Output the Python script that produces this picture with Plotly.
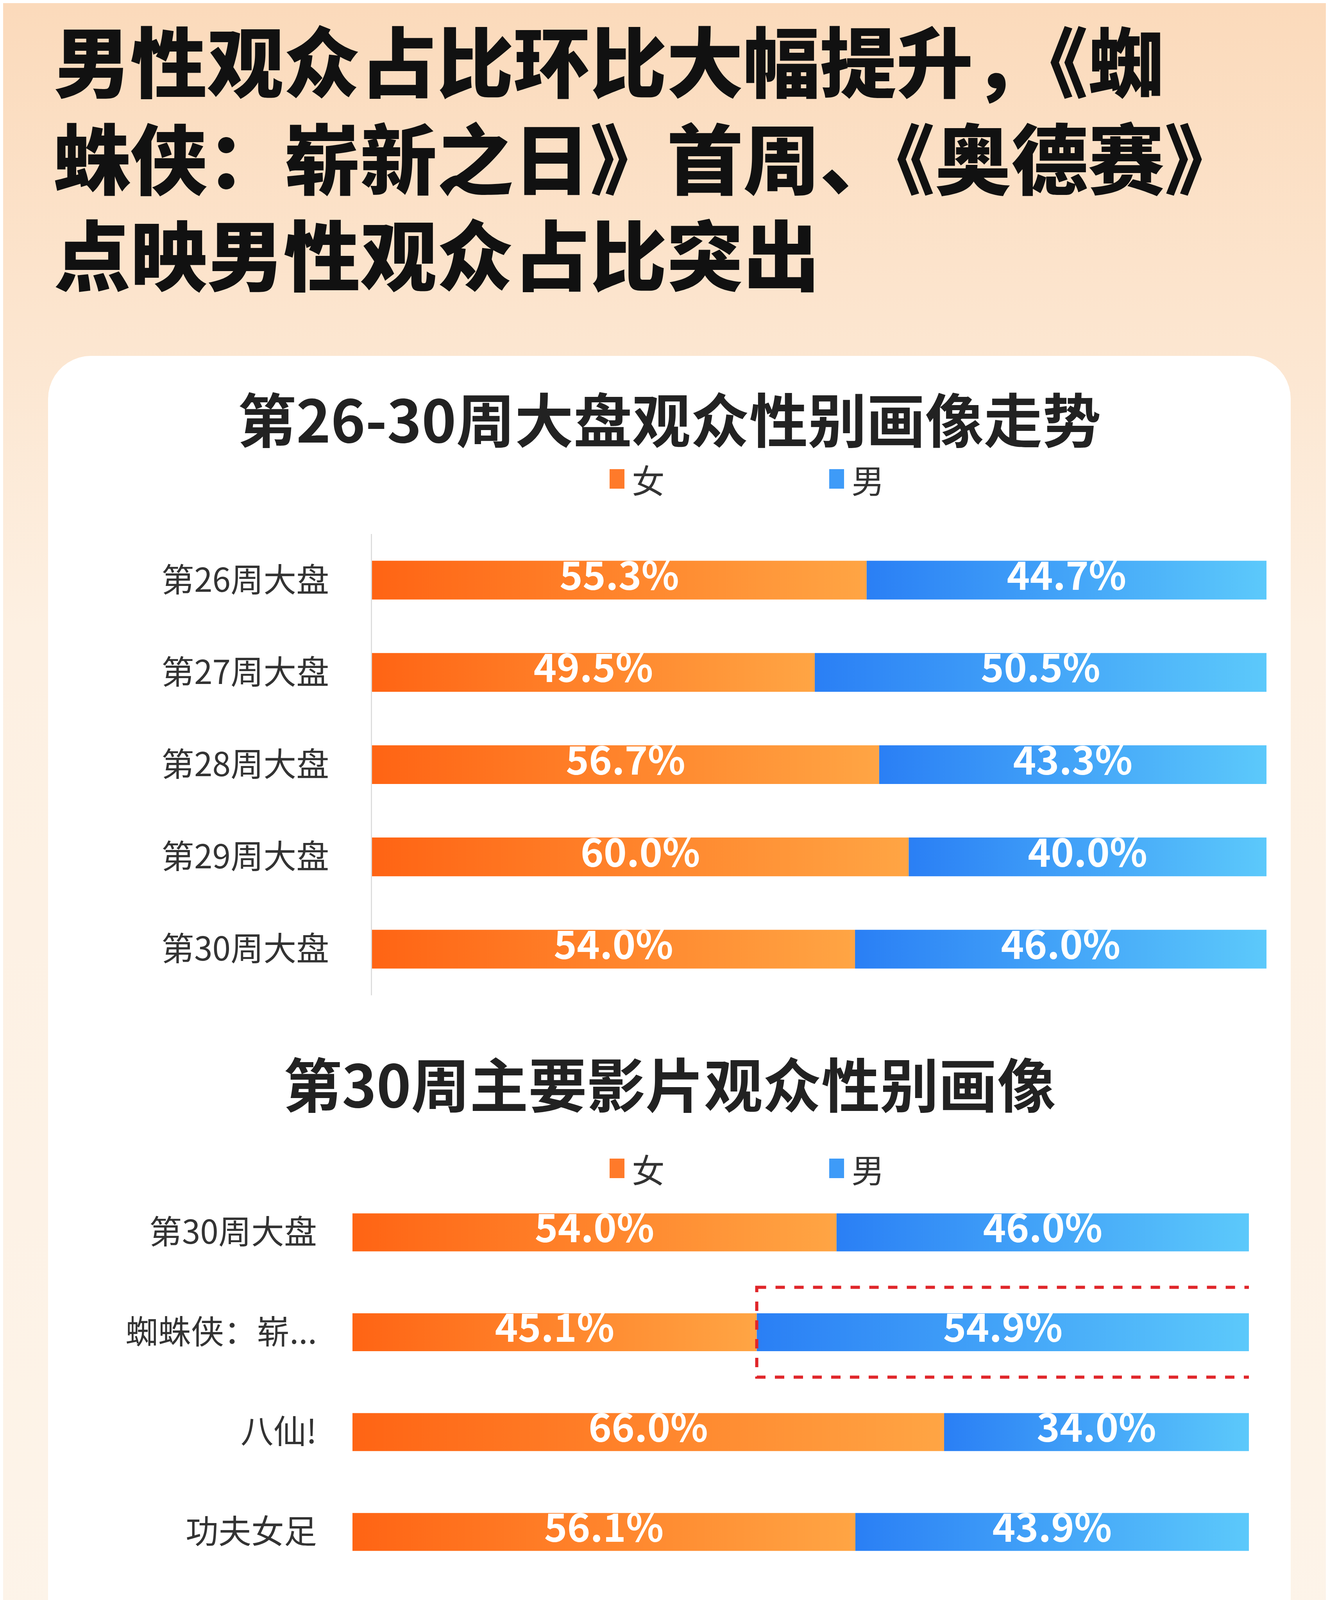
import numpy as np
import plotly.graph_objects as go

W, H = 3401, 6429
FONT = "Noto Sans CJK SC"

# ---- data ----
weeks = ["第26周大盘", "第27周大盘", "第28周大盘", "第29周大盘", "第30周大盘"]
weeks_female = [55.3, 49.5, 56.7, 60.0, 54.0]
weeks_male = [44.7, 50.5, 43.3, 40.0, 46.0]

films = ["第30周大盘", "蜘蛛侠：崭...", "八仙!", "功夫女足", "年会不能停！...", "痴迷",
         "想你了", "四渡", "小黄人与大...", "汪汪队立大...", "奥德赛"]
films_female = [54.0, 45.1, 66.0, 56.1, 53.2, 63.1, 76.7, 55.3, 67.8, 72.9, 44.2]
films_male = [46.0, 54.9, 34.0, 43.9, 46.8, 36.9, 23.3, 44.7, 32.2, 27.1, 55.8]
highlight = ["蜘蛛侠：崭...", "奥德赛"]

title_lines = ["男性观众占比环比大幅提升，《蜘", "蛛侠：崭新之日》首周、《奥德赛》", "点映男性观众占比突出"]
chart1_title = "第26-30周大盘观众性别画像走势"
chart2_title = "第30周主要影片观众性别画像"

ORANGE = [[0, "#FF6414"], [1, "#FFA544"]]
BLUE = [[0, "#2A7FF5"], [1, "#5CC9FB"]]


def px(x):
    return x / W


def py(y):
    return 1 - y / H


fig = go.Figure()

# background + card on first axis pair (paper-like)
fig.add_trace(go.Scatter(x=[0, 1, 1, 0, 0], y=[0, 0, 1, 1, 0], fill="toself", mode="none",
                         fillgradient=dict(type="vertical",
                                           colorscale=[[0, "#FDF7EF"], [0.75, "#FDF0E2"], [1, "#FBDABB"]]),
                         hoverinfo="skip", showlegend=False, xaxis="x", yaxis="y"))


def rounded(x0, y0, x1, y1, r):
    xs, ys = [], []
    for cx, cy, a0 in [(x1 - r, y0 + r, -90), (x1 - r, y1 - r, 0), (x0 + r, y1 - r, 90), (x0 + r, y0 + r, 180)]:
        for a in np.linspace(a0, a0 + 90, 12):
            xs.append(px(cx + r * np.cos(np.radians(a))))
            ys.append(py(cy + r * np.sin(np.radians(a))))
    xs.append(xs[0]); ys.append(ys[0])
    return xs, ys


cx, cy = rounded(115, 903, 3295, 5908, 110)
fig.add_trace(go.Scatter(x=cx, y=cy, fill="toself", mode="none", fillcolor="white",
                         hoverinfo="skip", showlegend=False, xaxis="x", yaxis="y"))

# logo icon
lx, ly = rounded(1295, 6060, 1385, 6240, 35)
fig.add_trace(go.Scatter(x=lx, y=ly, fill="toself", mode="none", fillcolor="#FF6A1F",
                         hoverinfo="skip", showlegend=False, xaxis="x", yaxis="y"))
fig.add_trace(go.Scatter(x=[px(1340), px(1355), px(1355), px(1325), px(1325), px(1340)],
                         y=[py(6085), py(6120), py(6230), py(6230), py(6120), py(6085)],
                         fill="toself", mode="none", fillcolor="white",
                         hoverinfo="skip", showlegend=False, xaxis="x", yaxis="y"))


def add_chart(cats, fem, mal, xa, ya, half):
    for i, (f, m) in enumerate(zip(fem, mal)):
        for x0, x1, cs in [(0, f, ORANGE), (f, f + m, BLUE)]:
            fig.add_trace(go.Scatter(x=[x0, x1, x1, x0, x0],
                                     y=[i - half, i - half, i + half, i + half, i - half],
                                     fill="toself", mode="none",
                                     fillgradient=dict(type="horizontal", colorscale=cs),
                                     hoverinfo="skip", showlegend=False, xaxis=xa, yaxis=ya))
    n = len(cats)
    fig.add_trace(go.Scatter(x=[f / 2 for f in fem] + [f + m / 2 for f, m in zip(fem, mal)],
                             y=list(range(n)) * 2, mode="text",
                             text=[f"{v:.1f}%" for v in fem] + [f"{v:.1f}%" for v in mal],
                             textfont=dict(family=FONT, size=100, color="white", weight=700),
                             hoverinfo="skip", showlegend=False, xaxis=xa, yaxis=ya))


add_chart(weeks, weeks_female, weeks_male, "x2", "y2", 0.21)
add_chart(films, films_female, films_male, "x3", "y3", 0.19)

# highlight dashed boxes
shapes = []
for name in highlight:
    i = films.index(name)
    shapes.append(dict(type="rect", xref="x3", yref="y3", x0=films_female[i], x1=102.3,
                       y0=i - 0.45, y1=i + 0.45, line=dict(color="#E0262A", width=8, dash="dash")))

# legends
ann = []
for lyp in [1218, 2983]:
    for sx, col, lab in [(1552, "#FF7A2A", "女"), (2114, "#3E9BF8", "男")]:
        shapes.append(dict(type="rect", xref="paper", yref="paper", x0=px(sx), x1=px(sx + 38),
                           y0=py(lyp + 25), y1=py(lyp - 25), fillcolor=col, line=dict(width=0)))
        ann.append(dict(x=px(sx + 55), y=py(lyp), xref="paper", yref="paper", text=lab,
                        showarrow=False, xanchor="left", yanchor="middle",
                        font=dict(family=FONT, size=84, color="#333333")))

for k, (t, yy) in enumerate(zip(title_lines, [140, 388, 636])):
    ann.append(dict(x=px(128), y=py(yy), xref="paper", yref="paper", text=t, showarrow=False,
                    xanchor="left", yanchor="middle",
                    font=dict(family=FONT, size=196, color="#111111", weight=900)))
ann.append(dict(x=0.5 * (px(115) + px(3295)), y=py(1059), xref="paper", yref="paper", text=chart1_title,
                showarrow=False, xanchor="center", yanchor="middle",
                font=dict(family=FONT, size=150, color="#222222", weight=700)))
ann.append(dict(x=0.5 * (px(115) + px(3295)), y=py(2761), xref="paper", yref="paper", text=chart2_title,
                showarrow=False, xanchor="center", yanchor="middle",
                font=dict(family=FONT, size=150, color="#222222", weight=700)))
ann.append(dict(x=px(125), y=py(6160), xref="paper", yref="paper", text="统计截至时间", showarrow=False,
                xanchor="left", yanchor="middle", font=dict(family=FONT, size=104, color="#666666")))
ann.append(dict(x=px(125), y=py(6338), xref="paper", yref="paper", text="2026年8月3日", showarrow=False,
                xanchor="left", yanchor="middle", font=dict(family=FONT, size=104, color="#666666")))
ann.append(dict(x=px(1412), y=py(6150), xref="paper", yref="paper", text="灯塔专业版", showarrow=False,
                xanchor="left", yanchor="middle", font=dict(family=FONT, size=138, color="#FF6A1F", weight=500)))

hidden = dict(visible=False, range=[0, 1], fixedrange=True)
fig.update_layout(
    width=W, height=H, margin=dict(l=0, r=0, t=0, b=0),
    paper_bgcolor="#FDF6EE", plot_bgcolor="rgba(0,0,0,0)",
    xaxis=dict(domain=[0, 1], **hidden),
    yaxis=dict(domain=[0, 1], **hidden),
    xaxis2=dict(domain=[px(944), px(3233)], range=[0, 100], visible=False, anchor="y2"),
    yaxis2=dict(domain=[py(2540), py(1359)], range=[4.5, -0.5], anchor="x2",
                tickmode="array", tickvals=list(range(len(weeks))), ticktext=weeks,
                showgrid=False, zeroline=False, showline=True, linecolor="#DDDDDD", linewidth=3,
                ticks="", ticklabelstandoff=90,
                tickfont=dict(family=FONT, size=84, color="#333333")),
    xaxis3=dict(domain=[px(894), px(3188)], range=[0, 100], visible=False, anchor="y3"),
    yaxis3=dict(domain=[py(5831), py(3019)], range=[10.5, -0.5], anchor="x3",
                tickmode="array", tickvals=list(range(len(films))), ticktext=films,
                showgrid=False, zeroline=False, showline=False,
                ticks="", ticklabelstandoff=90,
                tickfont=dict(family=FONT, size=84, color="#333333")),
    shapes=shapes, annotations=ann,
)

fig.write_html("out.html")
